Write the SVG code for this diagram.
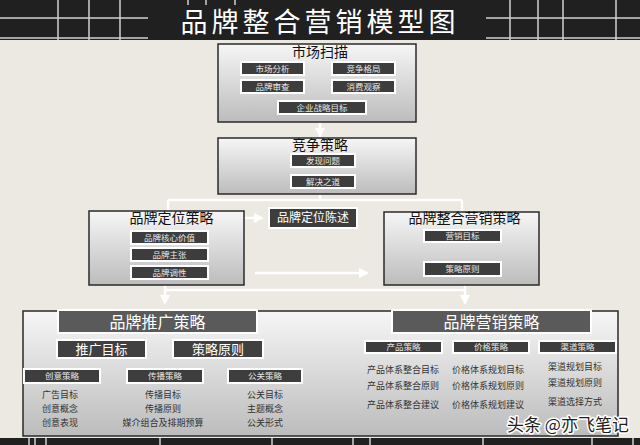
<svg xmlns="http://www.w3.org/2000/svg" width="640" height="445" viewBox="0 0 640 445">
<defs>
<linearGradient id="boxg" x1="0" y1="0" x2="0" y2="1">
<stop offset="0" stop-color="#f6f6f6"/>
<stop offset="1" stop-color="#bcbcbc"/>
</linearGradient>
<marker id="ah" viewBox="0 0 10 10" refX="8" refY="5" markerWidth="4" markerHeight="4" orient="auto">
<path d="M0,0 L10,5 L0,10 z" fill="#ffffff"/>
</marker>
<style>
text{font-family:"Noto Sans CJK SC","Noto Sans",sans-serif;text-anchor:middle}
.main{fill:url(#boxg);stroke:#2a2a2a;stroke-width:1.5}
.sb{fill:#3d3d3d;stroke:#ffffff;stroke-width:2}
.hb{fill:#5a5a5a;stroke:#ffffff;stroke-width:2}
.mb{fill:#404040;stroke:#ffffff;stroke-width:2}
.st{fill:#e6e6e6;font-size:8.5px}
.tt{fill:#111;font-size:14px}
.it{fill:#333;font-size:9px}
.ht{fill:#fff;font-size:16px}
.mt{fill:#fff;font-size:13px}
.grid{stroke:#cfcfcf;stroke-width:1.5;fill:none}
.con{stroke:#ffffff;stroke-width:2.5;fill:none}
</style>
</defs>
<rect width="640" height="445" fill="#ece9e3"/>
<g id="titlebar">
<rect x="0" y="0" width="640" height="40" fill="#202020"/>
<path class="grid" d="M0,18H148M0,38H148M58,0V40M89,0V40M120,0V40M486,18H640M486,38H640M510,0V40M538,0V40M563,0V40M616,0V40M188,0V5M206,0V5M235,0V5"/>
<text x="320" y="32" font-size="27" fill="#ffffff" letter-spacing="4">品牌整合营销模型图</text>
</g>
<g id="bottomstrip">
<rect x="0" y="438" width="640" height="7" fill="#202020"/>
<path class="grid" d="M29,438V445M35,438V445M46,438V445M160,438V445M272,438V445M353,438V445M370,438V445M483,438V445M592,438V445M633,438V445"/>
</g>
<g id="connectors">
<path class="con" d="M320,122V136" marker-end="url(#ah)"/>
<path class="con" d="M320,194V200M168,200H462M168,200V211M462,200V212"/>
<path class="con" d="M222,218H262" marker-end="url(#ah)"/>
<path class="con" d="M255,273H367" marker-end="url(#ah)"/>
<path class="con" d="M165,290H465"/>
<path class="con" d="M165,285V303" marker-end="url(#ah)"/>
<path class="con" d="M465,285V303" marker-end="url(#ah)"/>
</g>
<g id="market">
<rect class="main" x="218" y="44" width="198" height="78"/>
<text class="tt" x="320" y="57">市场扫描</text>
<rect class="sb" x="241" y="62" width="63" height="13"/><text class="st" x="272.5" y="71.5">市场分析</text>
<rect class="sb" x="332" y="62" width="63" height="13"/><text class="st" x="363.5" y="71.5">竞争格局</text>
<rect class="sb" x="241" y="80" width="63" height="13"/><text class="st" x="272.5" y="89.5">品牌审查</text>
<rect class="sb" x="332" y="80" width="63" height="13"/><text class="st" x="363.5" y="89.5">消费观察</text>
<rect class="sb" x="278" y="101" width="88" height="13"/><text class="st" x="322" y="110.5">企业战略目标</text>
</g>
<g id="competition">
<rect class="main" x="218" y="138" width="198" height="56"/>
<text class="tt" x="320" y="150" font-size="15">竞争策略</text>
<rect class="sb" x="291" y="154" width="64" height="13"/><text class="st" x="323" y="163.5">发现问题</text>
<rect class="sb" x="291" y="175" width="64" height="13"/><text class="st" x="323" y="184.5">解决之道</text>
</g>
<g id="positioning">
<rect class="main" x="89" y="211" width="155" height="74"/>
<text class="tt" x="171.5" y="223">品牌定位策略</text>
<rect class="sb" x="131" y="231" width="77" height="13"/><text class="st" x="169.5" y="240.5">品牌核心价值</text>
<rect class="sb" x="131" y="248" width="77" height="13"/><text class="st" x="169.5" y="257.5">品牌主张</text>
<rect class="sb" x="131" y="266" width="77" height="13"/><text class="st" x="169.5" y="275.5">品牌调性</text>
</g>
<g id="statement">
<rect class="sb" x="269" y="208" width="88" height="20"/>
<text x="313" y="222" font-size="12" fill="#ffffff">品牌定位陈述</text>
</g>
<g id="imc">
<rect class="main" x="384" y="212" width="155" height="73"/>
<text class="tt" x="464.5" y="223">品牌整合营销策略</text>
<rect class="sb" x="424" y="230" width="77" height="12"/><text class="st" x="462.5" y="239">营销目标</text>
<rect class="sb" x="424" y="262" width="77" height="14"/><text class="st" x="462.5" y="272">策略原则</text>
</g>
<g id="bottom">
<rect class="main" x="23" y="311" width="595" height="125"/>
</g>
<g id="promotion">
<rect class="hb" x="58" y="310" width="199" height="23"/><text class="ht" x="157.5" y="327.5">品牌推广策略</text>
<rect class="mb" x="57" y="340" width="89" height="18"/><text class="mt" x="101.5" y="354">推广目标</text>
<rect class="mb" x="173" y="340" width="90" height="18"/><text class="mt" x="218" y="354">策略原则</text>
<rect class="sb" x="24" y="369" width="76" height="14"/><text class="st" x="62" y="379">创意策略</text>
<rect class="sb" x="127" y="369" width="76" height="14"/><text class="st" x="165" y="379">传播策略</text>
<rect class="sb" x="228" y="369" width="74" height="14"/><text class="st" x="265" y="379">公关策略</text>
<text class="it" x="60" y="398">广告目标</text>
<text class="it" x="60" y="412">创意概念</text>
<text class="it" x="60" y="426">创意表现</text>
<text class="it" x="163" y="398">传播目标</text>
<text class="it" x="163" y="412">传播原则</text>
<text class="it" x="163" y="426">媒介组合及排期预算</text>
<text class="it" x="265" y="398">公关目标</text>
<text class="it" x="265" y="412">主题概念</text>
<text class="it" x="265" y="426">公关形式</text>
</g>
<g id="marketing">
<rect class="hb" x="392" y="310" width="199" height="23"/><text class="ht" x="491.5" y="327.5">品牌营销策略</text>
<rect class="sb" x="365" y="341" width="77" height="12"/><text class="st" x="403.5" y="350">产品策略</text>
<rect class="sb" x="453" y="341" width="76" height="12"/><text class="st" x="491" y="350">价格策略</text>
<rect class="sb" x="539" y="341" width="77" height="12"/><text class="st" x="577.5" y="350">渠道策略</text>
<text class="it" x="403" y="373">产品体系整合目标</text>
<text class="it" x="403" y="389">产品体系整合原则</text>
<text class="it" x="403" y="408">产品体系整合建议</text>
<text class="it" x="488" y="373">价格体系规划目标</text>
<text class="it" x="488" y="389">价格体系规划原则</text>
<text class="it" x="488" y="408">价格体系规划建议</text>
<text class="it" x="575" y="370">渠道规划目标</text>
<text class="it" x="575" y="386">渠道规划原则</text>
<text class="it" x="575" y="405">渠道选择方式</text>
</g>
<g id="watermark">
<text x="568" y="431" font-size="17" fill="#1e1e1e" stroke="#ffffff" stroke-width="3" paint-order="stroke" stroke-linejoin="round">头条 @亦飞笔记</text>
</g>
</svg>
